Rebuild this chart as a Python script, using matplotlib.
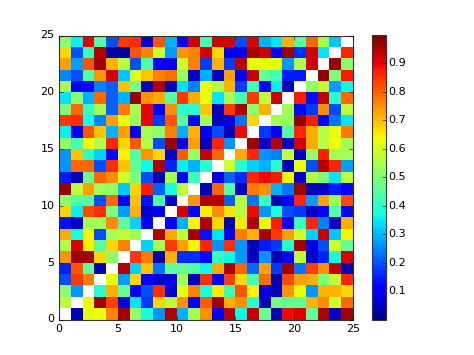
import numpy as np
import matplotlib
matplotlib.use('Agg')
import matplotlib.pyplot as plt

n = float('nan')
# Rows listed from the top of the picture (y = 24) to the bottom (y = 0)
rows_top_down = [
 [.52,.36,.92,.45,.20,.85,.86,.07,.82,.30,.12,.93,.43,.93,.92,.20,.92,.30,.35,.72,.45,.80,.55,.32,n],
 [.68,.20,.42,.95,.03,.03,.82,.77,.60,.28,.75,.77,.92,.68,.10,.10,.96,.93,.12,.98,.17,.93,.35,n,.87],
 [.74,.28,.82,.97,.72,.57,.20,.45,.13,.10,.60,.77,.18,.72,.18,.95,.63,.63,.63,.27,.57,.93,n,.98,.52],
 [.26,.20,.45,.75,.93,.32,.62,.70,.77,.79,.53,.06,.30,.05,.74,.10,.94,.47,.43,.15,.15,n,.98,.50,.88],
 [.55,.12,.12,.25,.22,.70,.50,.04,.96,.05,.34,.25,.63,.57,.72,.18,.43,.13,.36,.05,n,.53,.58,.28,.37],
 [.35,.52,.30,.80,.22,.30,.98,.75,.73,.45,.85,.73,.63,.35,.55,.43,.85,.58,.94,n,.88,.14,.94,.40,.80],
 [.50,.80,.42,.55,.22,.78,.55,.91,.12,.76,.40,.40,.70,.05,.85,.96,.52,.72,n,.55,.13,.18,.76,.20,.58],
 [.85,.86,.38,.25,.74,.63,.53,.91,.18,.82,.46,.12,.55,.06,.08,.24,.68,n,.55,.53,.98,.88,.13,.24,.35],
 [.36,.10,.82,.70,.30,.74,.10,.55,.52,.77,.30,.72,.10,.20,.05,.90,n,.18,.12,.45,.87,.73,.57,.63,.78],
 [.52,.44,.65,.57,.87,.68,.82,.57,.20,.98,.10,.74,.05,.87,.27,n,.97,.06,.95,.06,.93,.73,.57,.64,.55],
 [.27,.70,.40,.33,.13,.65,.45,.75,.68,.07,.81,.53,.94,.80,n,.73,.87,.27,.25,.58,.06,.53,.88,.55,.55],
 [.27,.80,.80,.20,.86,.70,.47,.37,.96,.16,.36,.30,.40,n,.60,.40,.33,.30,.40,.05,.63,.20,.95,.87,.28],
 [.15,.05,.48,.80,.76,.60,.50,.20,.04,.55,.10,.43,n,.10,.22,.17,.87,.90,.88,.65,.06,.57,.50,.35,.58],
 [.98,.58,.74,.54,.53,.32,.68,.88,.22,.38,.58,n,.05,.80,.45,.06,.78,.76,.30,.24,.97,.05,.06,.15,.12],
 [.52,.45,.45,.20,.80,.10,.70,.14,.44,.06,n,.75,.96,.95,.22,.57,.24,.42,.05,.12,.87,.28,.74,.54,.83],
 [.68,.36,.83,.86,.50,.28,.72,.07,.10,n,.93,.12,.66,.76,.67,.57,.90,.27,.38,.20,.18,.06,.13,.45,.12],
 [.14,.06,.55,.54,.76,.47,.33,.12,n,.12,.30,.65,.96,.68,.05,.66,.96,.63,.88,.10,.42,.87,.25,.06,.72],
 [.73,.38,.65,.20,.55,.58,.55,n,.95,.73,.58,.97,.14,.35,.10,.78,.72,.97,.85,.74,.60,.33,.93,.32,.65],
 [.56,.92,.66,.46,.68,.77,n,.33,.55,.85,.74,.65,.87,.27,.86,.27,.05,.15,.18,.40,.97,.08,.20,.60,.47],
 [.75,.97,.97,.68,.52,n,.85,.78,.04,.72,.17,.17,.13,.42,.37,.27,.05,.27,.05,.13,.58,.07,.16,.38,.92],
 [.16,.82,.47,.05,n,.96,.33,.70,.24,.46,.47,.45,.37,.73,.96,.80,.23,.74,.18,.97,.24,.84,.75,.94,.05],
 [.20,.85,.78,n,.63,.28,.68,.10,.07,.08,.55,.05,.86,.10,.84,.68,.43,.79,.04,.83,.74,.72,.50,.58,.87],
 [.52,.27,n,.40,.72,.47,.10,.20,.86,.08,.63,.77,.38,.66,.42,.82,.65,.08,.05,.75,.63,.27,.72,.72,.68],
 [.58,n,.63,.97,.84,.08,.35,.18,.68,.57,.75,.12,.81,.97,.73,.76,.40,.05,.50,.47,.47,.72,.76,.60,.80],
 [n,.05,.63,.64,.77,.97,.53,.38,.27,.96,.30,.55,.76,.10,.95,.37,.94,.48,.05,.90,.92,.47,.96,.06,.97],
]
cbar_ticks = [.1,.2,.3,.4,.5,.6,.7,.8,.9]
axis_ticks = [0,5,10,15,20,25]

plt.style.use('classic')
W, H = 474, 355
fig = plt.figure(figsize=(W/80, H/80), dpi=80, facecolor='white')
ax = fig.add_axes([59/W, 1-319.5/H, 294/W, 284/H])
M = np.array(rows_top_down)[::-1]
cmap = plt.get_cmap('jet').copy()
cmap.set_bad('white')
im = ax.pcolormesh(np.arange(26), np.arange(26), np.ma.masked_invalid(M),
                   cmap=cmap, vmin=0.0, vmax=1.0, edgecolors='none', antialiased=False)
ax.set_xlim(0, 25); ax.set_ylim(0, 25)
ax.set_xticks(axis_ticks); ax.set_yticks(axis_ticks)
ax.tick_params(labelsize=10, pad=4)
for s in ax.spines.values():
    s.set_edgecolor('#333333')

cax = fig.add_axes([371.5/W, 1-319.5/H, 14.5/W, 284.5/H])
cb = fig.colorbar(im, cax=cax)
cb.set_ticks(cbar_ticks)
cb.set_ticklabels(['%.1f' % t for t in cbar_ticks])
cb.ax.tick_params(labelsize=10, direction='in', length=4, pad=2)
cb.solids.set_edgecolor('face')
cb.outline.set_edgecolor('#333333')
fig.savefig('out.png', dpi=80, facecolor='white')
